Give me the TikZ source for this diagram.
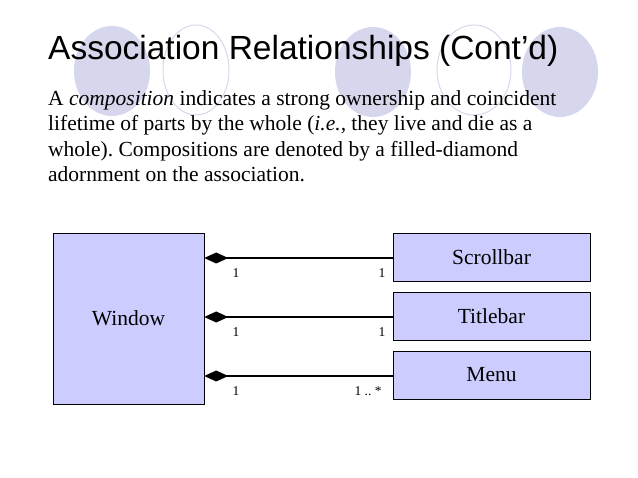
\documentclass[tikz,border=0pt]{standalone}
\usepackage{fontspec}
\setmainfont{Liberation Serif}
\newfontfamily\titlefont{Liberation Sans}
\usetikzlibrary{arrows.meta}
\begin{document}
\frenchspacing
\begin{tikzpicture}[x=1pt,y=-1pt,
  cls/.style={draw=black,fill=lav,inner sep=0},
  comp/.style={draw=black,line width=1.5pt,{Diamond[length=24pt,width=11pt,fill=black]}-},
  mult/.style={font=\fontsize{13.5}{15}\selectfont,anchor=base west}]
\definecolor{lav}{HTML}{CCCCFF}
\definecolor{circ}{HTML}{D6D6EC}
\useasboundingbox (0,0) rectangle (638,478);
\fill[circ] (112,71) ellipse[x radius=38,y radius=45];
\draw[circ,line width=1pt] (196,70) ellipse[x radius=33,y radius=45];
\fill[circ] (373,72) ellipse[x radius=38,y radius=45];
\draw[circ,line width=1pt] (474,70) ellipse[x radius=37,y radius=45];
\fill[circ] (560,72) ellipse[x radius=38,y radius=45];
\node[anchor=base west,inner sep=0,font=\titlefont\fontsize{33.5}{38}\selectfont] (title) at (48,60) {Association Relationships (Cont’d)};
\node[anchor=north west,inner sep=0,align=left,font=\fontsize{21.5}{25.5}\selectfont] (body) at (48,90)
 {A \textit{composition} indicates a strong ownership and coincident\\lifetime of parts by the whole (\textit{i.e.,} they live and die as a\\whole). Compositions are denoted by a filled-diamond\\adornment on the association.};
\node[cls,minimum width=151,minimum height=171,font=\fontsize{21.5}{24}\selectfont] (win) at (128.5,318.5) {Window};
\node[cls,minimum width=197,minimum height=48,font=\fontsize{21.5}{24}\selectfont] (sb) at (491.5,257) {Scrollbar};
\node[cls,minimum width=197,minimum height=48,font=\fontsize{21.5}{24}\selectfont] (tb) at (491.5,316) {Titlebar};
\node[cls,minimum width=197,minimum height=48,font=\fontsize{21.5}{24}\selectfont] (mn) at (491.5,375) {Menu};
\draw[comp] (win.east |- 0,258) -- (sb.west |- 0,258);
\draw[comp] (win.east |- 0,317) -- (tb.west |- 0,317);
\draw[comp] (win.east |- 0,376) -- (mn.west |- 0,376);
\node[mult] (m1) at (229,278) {1};
\node[mult] (m2) at (375,278) {1};
\node[mult] (m3) at (229,337) {1};
\node[mult] (m4) at (375,337) {1};
\node[mult] (m5) at (229,396) {1};
\node[mult] (m6) at (351,396) {1 .. *};
\end{tikzpicture}
\end{document}
